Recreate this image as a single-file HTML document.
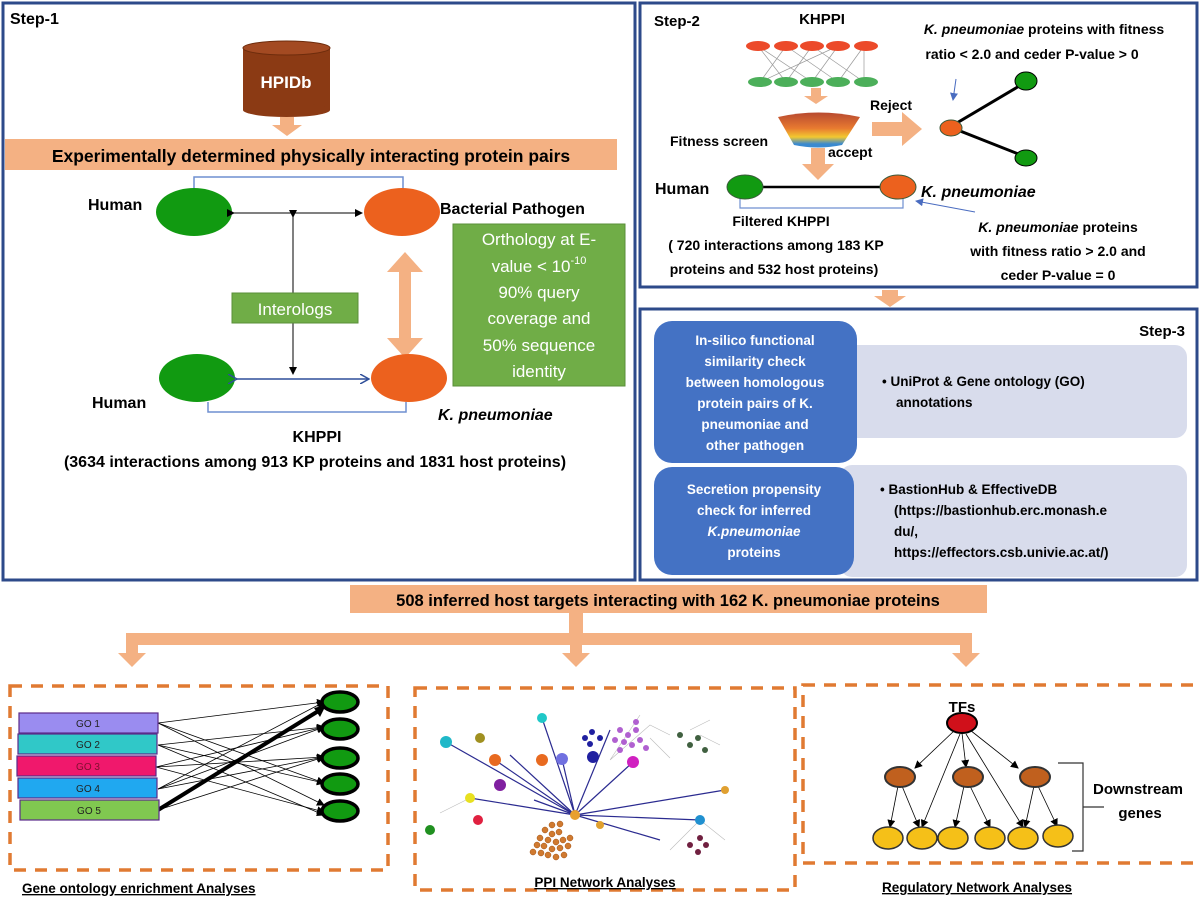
<!DOCTYPE html>
<html><head><meta charset="utf-8"><style>
html,body{margin:0;padding:0;background:#fff}
svg{display:block;font-family:"Liberation Sans",sans-serif}
.b{font-weight:bold}
</style></head><body>
<svg width="1200" height="902" viewBox="0 0 1200 902" xmlns="http://www.w3.org/2000/svg">
<defs>
<marker id="ak" markerWidth="8" markerHeight="8" refX="7" refY="4" orient="auto" markerUnits="userSpaceOnUse"><path d="M0,0 L8,4 L0,8 z" fill="#000"/></marker>
<marker id="ab" markerWidth="10" markerHeight="10" refX="9" refY="5" orient="auto" markerUnits="userSpaceOnUse"><path d="M0,0 L9,5 L0,10" fill="none" stroke="#2f4f9a" stroke-width="1.5"/></marker>
<marker id="abl" markerWidth="8" markerHeight="8" refX="7" refY="4" orient="auto" markerUnits="userSpaceOnUse"><path d="M0,0 L8,4 L0,8 z" fill="#4a6cc0"/></marker>
<linearGradient id="fun" x1="0" y1="0" x2="0" y2="1"><stop offset="0" stop-color="#b84a30"/><stop offset="0.45" stop-color="#e87a30"/><stop offset="0.7" stop-color="#f2c830"/><stop offset="0.9" stop-color="#3a8ad0"/></linearGradient>
</defs>

<rect x="3" y="3" width="632" height="577" fill="none" stroke="#2d4a8a" stroke-width="3"/>
<rect x="640" y="3" width="557" height="284" fill="none" stroke="#2d4a8a" stroke-width="3"/>
<rect x="640" y="309" width="557" height="271" fill="none" stroke="#2d4a8a" stroke-width="3"/>

<!-- Step 1 -->
<text x="10" y="24" class="b" font-size="16">Step-1</text>
<rect x="243" y="48" width="87" height="62" fill="#8b3a14"/>
<ellipse cx="286.5" cy="110" rx="43.5" ry="7" fill="#8b3a14"/>
<ellipse cx="286.5" cy="48" rx="43.5" ry="7" fill="#a34a22" stroke="#6e2c0c"/>
<text x="286" y="88" text-anchor="middle" fill="#fff" class="b" font-size="17">HPIDb</text>
<path d="M280,117 h14 v8 h8 l-15,11 l-15,-11 h8z" fill="#f4b183"/>
<rect x="5" y="139" width="612" height="31" fill="#f4b183"/>
<text x="311" y="162" text-anchor="middle" class="b" font-size="17.5">Experimentally determined physically interacting protein pairs</text>

<path d="M194,204 V177 H403 V204" fill="none" stroke="#6f8fd0" stroke-width="1.5"/>
<ellipse cx="194" cy="212" rx="38" ry="24" fill="#119a11"/>
<ellipse cx="402" cy="212" rx="38" ry="24" fill="#ec611e"/>
<line x1="234" y1="213" x2="362" y2="213" stroke="#000" marker-start="url(#ak)" marker-end="url(#ak)"/>
<text x="88" y="210" class="b" font-size="16">Human</text>
<text x="440" y="214" class="b" font-size="16">Bacterial Pathogen</text>
<line x1="293" y1="217" x2="293" y2="374" stroke="#000" marker-start="url(#ak)" marker-end="url(#ak)"/>
<rect x="232" y="293" width="126" height="30" fill="#70ad47" stroke="#5a8f3a"/>
<text x="295" y="315" text-anchor="middle" fill="#fff" font-size="17">Interologs</text>
<path d="M405,252 l-18,20 h12 v66 h-12 l18,20 l18,-20 h-12 v-66 h12z" fill="#f4b183"/>
<rect x="453" y="224" width="172" height="162" fill="#70ad47" stroke="#5a8f3a"/>
<g fill="#fff" font-size="17" text-anchor="middle">
<text x="539" y="245">Orthology at E-</text>
<text x="539" y="272">value &lt; 10<tspan font-size="11" dy="-8">-10</tspan></text>
<text x="539" y="298">90% query</text>
<text x="539" y="324">coverage and</text>
<text x="539" y="351">50% sequence</text>
<text x="539" y="377">identity</text>
</g>
<ellipse cx="197" cy="378" rx="38" ry="24" fill="#119a11"/>
<ellipse cx="409" cy="378" rx="38" ry="24" fill="#ec611e"/>
<line x1="237" y1="379" x2="369" y2="379" stroke="#2f4f9a" stroke-width="1.5" marker-start="url(#ab)" marker-end="url(#ab)"/>
<path d="M208,402 V412 H406 V402" fill="none" stroke="#6f8fd0" stroke-width="1.5"/>
<text x="92" y="408" class="b" font-size="16">Human</text>
<text x="438" y="420" class="b" font-size="16" font-style="italic">K. pneumoniae</text>
<text x="317" y="442" text-anchor="middle" class="b" font-size="16">KHPPI</text>
<text x="315" y="467" text-anchor="middle" class="b" font-size="16">(3634 interactions among 913 KP proteins and 1831 host proteins)</text>

<!-- Step 2 -->
<text x="654" y="26" class="b" font-size="15">Step-2</text>
<text x="822" y="24" text-anchor="middle" class="b" font-size="15">KHPPI</text>
<g stroke="#999" stroke-width="0.7">
<line x1="758" y1="46" x2="786" y2="82"/><line x1="758" y1="46" x2="812" y2="82"/><line x1="786" y1="46" x2="760" y2="82"/><line x1="786" y1="46" x2="838" y2="82"/><line x1="812" y1="46" x2="786" y2="82"/><line x1="812" y1="46" x2="864" y2="82"/><line x1="838" y1="46" x2="812" y2="82"/><line x1="838" y1="46" x2="760" y2="82"/><line x1="864" y1="46" x2="838" y2="82"/><line x1="864" y1="46" x2="864" y2="82"/>
</g>
<g fill="#ec4a2a"><ellipse cx="758" cy="46" rx="12" ry="5"/><ellipse cx="786" cy="46" rx="12" ry="5"/><ellipse cx="812" cy="46" rx="12" ry="5"/><ellipse cx="838" cy="46" rx="12" ry="5"/><ellipse cx="866" cy="46" rx="12" ry="5"/></g>
<g fill="#4caf5a"><ellipse cx="760" cy="82" rx="12" ry="5"/><ellipse cx="786" cy="82" rx="12" ry="5"/><ellipse cx="812" cy="82" rx="12" ry="5"/><ellipse cx="838" cy="82" rx="12" ry="5"/><ellipse cx="866" cy="82" rx="12" ry="5"/></g>
<path d="M811,88 h10 v8 h7 l-12,8 l-12,-8 h7z" fill="#f4b183"/>
<path d="M778,117 Q818,108 860,117 L842,145 Q818,150 794,145 Z" fill="url(#fun)"/>
<text x="670" y="146" class="b" font-size="14">Fitness screen</text>
<text x="870" y="110" class="b" font-size="14">Reject</text>
<path d="M872,122 h30 v-10 l20,17 l-20,17 v-10 h-30z" fill="#f4b183"/>
<path d="M811,148 h14 v16 h9 l-16,16 l-16,-16 h9z" fill="#f4b183"/>
<text x="828" y="157" class="b" font-size="14">accept</text>
<line x1="950" y1="127" x2="1026" y2="82" stroke="#000" stroke-width="3"/>
<line x1="950" y1="127" x2="1026" y2="157" stroke="#000" stroke-width="3"/>
<ellipse cx="951" cy="128" rx="11" ry="8" fill="#ec611e" stroke="#3a5a3a"/>
<ellipse cx="1026" cy="81" rx="11" ry="9" fill="#119a11" stroke="#000"/>
<ellipse cx="1026" cy="158" rx="11" ry="8" fill="#119a11" stroke="#000"/>
<line x1="956" y1="79" x2="953" y2="100" stroke="#4a6cc0" marker-end="url(#abl)"/>
<g class="b" font-size="14" text-anchor="middle">
<text x="1044" y="34"><tspan font-style="italic">K. pneumoniae</tspan> proteins with fitness</text>
<text x="1032" y="59">ratio &lt; 2.0 and ceder P-value &gt; 0</text>
</g>
<path d="M740,196 V208 H903 V196" fill="none" stroke="#6f8fd0" stroke-width="1.2"/>
<line x1="745" y1="187" x2="900" y2="187" stroke="#000" stroke-width="2.5"/>
<ellipse cx="745" cy="187" rx="18" ry="12" fill="#119a11" stroke="#3a5a3a"/>
<ellipse cx="898" cy="187" rx="18" ry="12" fill="#ec611e" stroke="#3a5a3a"/>
<text x="655" y="194" class="b" font-size="16">Human</text>
<text x="921" y="197" class="b" font-size="16" font-style="italic">K. pneumoniae</text>
<line x1="975" y1="212" x2="916" y2="201" stroke="#4a6cc0" marker-end="url(#abl)"/>
<g class="b" font-size="14" text-anchor="middle">
<text x="781" y="226">Filtered KHPPI</text>
<text x="776" y="250">( 720 interactions among 183 KP</text>
<text x="774" y="274">proteins and 532 host proteins)</text>
<text x="1058" y="232"><tspan font-style="italic">K. pneumoniae</tspan> proteins</text>
<text x="1058" y="256">with fitness ratio &gt; 2.0 and</text>
<text x="1058" y="280">ceder P-value = 0</text>
</g>
<path d="M882,290 h16 v6 h8 l-16,11 l-16,-11 h8z" fill="#f4b183"/>

<!-- Step 3 -->
<text x="1185" y="336" text-anchor="end" class="b" font-size="15">Step-3</text>
<rect x="840" y="345" width="347" height="93" rx="12" fill="#d8dcec"/>
<rect x="654" y="321" width="203" height="142" rx="18" fill="#4472c4"/>
<g fill="#fff" class="b" font-size="13.5" text-anchor="middle">
<text x="755" y="345">In-silico functional</text>
<text x="755" y="366">similarity check</text>
<text x="755" y="387">between homologous</text>
<text x="755" y="408">protein pairs of K.</text>
<text x="755" y="429">pneumoniae and</text>
<text x="755" y="450">other pathogen</text>
</g>
<text x="882" y="386" class="b" font-size="13.5">• UniProt &amp; Gene ontology (GO)</text>
<text x="896" y="407" class="b" font-size="13.5">annotations</text>
<rect x="840" y="465" width="347" height="112" rx="12" fill="#d8dcec"/>
<rect x="654" y="467" width="200" height="108" rx="18" fill="#4472c4"/>
<g fill="#fff" class="b" font-size="13.5" text-anchor="middle">
<text x="754" y="494">Secretion propensity</text>
<text x="754" y="515">check for inferred</text>
<text x="754" y="536" font-style="italic">K.pneumoniae</text>
<text x="754" y="557">proteins</text>
</g>
<g class="b" font-size="13.5">
<text x="880" y="494">• BastionHub &amp; EffectiveDB</text>
<text x="894" y="515">(https://bastionhub.erc.monash.e</text>
<text x="894" y="536">du/,</text>
<text x="894" y="557">https://effectors.csb.univie.ac.at/)</text>
</g>

<rect x="350" y="585" width="637" height="28" fill="#f4b183"/>
<text x="668" y="606" text-anchor="middle" class="b" font-size="16.5">508 inferred host targets interacting with 162 K. pneumoniae proteins</text>
<rect x="569" y="613" width="14" height="20" fill="#f4b183"/>
<rect x="126" y="633" width="846" height="12" fill="#f4b183"/>
<path d="M126,645 h12 v8 h8 l-14,14 l-14,-14 h8z" fill="#f4b183"/>
<path d="M570,645 h12 v8 h8 l-14,14 l-14,-14 h8z" fill="#f4b183"/>
<path d="M960,645 h12 v8 h8 l-14,14 l-14,-14 h8z" fill="#f4b183"/>

<g fill="none" stroke="#e07a32" stroke-width="3.5" stroke-dasharray="12,9">
<rect x="10" y="686" width="378" height="184"/>
<rect x="415" y="688" width="380" height="202"/>
<rect x="803" y="685" width="400" height="178"/>
</g>

<!-- GO -->
<g stroke="#000" stroke-width="0.8">
<line x1="158" y1="723" x2="324" y2="702" marker-end="url(#ak)"/>
<line x1="158" y1="723" x2="324" y2="805" marker-end="url(#ak)"/>
<line x1="158" y1="723" x2="324" y2="783" marker-end="url(#ak)"/>
<line x1="158" y1="745" x2="324" y2="727" marker-end="url(#ak)"/>
<line x1="158" y1="745" x2="324" y2="783" marker-end="url(#ak)"/>
<line x1="158" y1="745" x2="324" y2="815" marker-end="url(#ak)"/>
<line x1="156" y1="767" x2="324" y2="727" marker-end="url(#ak)"/>
<line x1="156" y1="767" x2="324" y2="757" marker-end="url(#ak)"/>
<line x1="156" y1="767" x2="324" y2="812" marker-end="url(#ak)"/>
<line x1="158" y1="789" x2="324" y2="702" marker-end="url(#ak)"/>
<line x1="158" y1="789" x2="324" y2="757" marker-end="url(#ak)"/>
<line x1="158" y1="789" x2="324" y2="727" marker-end="url(#ak)"/>
<line x1="158" y1="810" x2="324" y2="757" marker-end="url(#ak)"/>
</g>
<line x1="158" y1="810" x2="320" y2="710" stroke="#000" stroke-width="4"/>
<path d="M326,705 l-12,3 l6,9z" fill="#000"/>
<g fill="#119a11" stroke="#000" stroke-width="3.5">
<ellipse cx="340" cy="702" rx="18" ry="10"/><ellipse cx="340" cy="729" rx="18" ry="10"/><ellipse cx="340" cy="758" rx="18" ry="10"/><ellipse cx="340" cy="784" rx="18" ry="10"/><ellipse cx="340" cy="811" rx="18" ry="10"/>
</g>
<g stroke="#5a2a8a" stroke-width="1.2">
<rect x="19" y="713" width="139" height="20" fill="#9a8cf0"/>
<rect x="18" y="734" width="139" height="20" fill="#30c8c8"/>
<rect x="17" y="756" width="139" height="20" fill="#f0186c"/>
<rect x="18" y="778" width="139" height="20" fill="#20a8f0"/>
<rect x="20" y="800" width="139" height="20" fill="#80c850"/>
</g>
<g font-size="10" text-anchor="middle" fill="#222">
<text x="88" y="727">GO 1</text><text x="88" y="748">GO 2</text><text x="88" y="770" fill="#801030">GO 3</text><text x="88" y="792">GO 4</text><text x="89" y="814">GO 5</text>
</g>
<text x="22" y="893" class="b" font-size="13.5" text-decoration="underline">Gene ontology enrichment Analyses</text>

<!-- PPI network -->
<g stroke="#2b2b90" stroke-width="1.2">
<line x1="575" y1="815" x2="446" y2="742"/><line x1="575" y1="815" x2="495" y2="760"/><line x1="575" y1="815" x2="542" y2="718"/><line x1="575" y1="815" x2="562" y2="759"/><line x1="575" y1="815" x2="633" y2="762"/><line x1="575" y1="815" x2="534" y2="800"/><line x1="575" y1="815" x2="470" y2="798"/><line x1="575" y1="815" x2="700" y2="820"/><line x1="575" y1="815" x2="660" y2="840"/><line x1="575" y1="815" x2="610" y2="730"/><line x1="575" y1="815" x2="510" y2="755"/><line x1="575" y1="815" x2="725" y2="790"/>
</g>
<g stroke="#bbb" stroke-width="0.6" fill="none">
<path d="M610,760 l40,-35 l20,10 M610,760 l30,-45 M650,738 l20,20 M700,820 l-30,30 M700,820 l25,20 M470,798 l-30,15 M690,730 l20,-10 M700,735 l20,10"/>
</g>
<g>
<circle cx="575" cy="815" r="5" fill="#e8a030"/>
<circle cx="446" cy="742" r="6" fill="#20b8c8"/><circle cx="495" cy="760" r="6" fill="#e86a20"/><circle cx="542" cy="718" r="5" fill="#20c8c8"/><circle cx="542" cy="760" r="6" fill="#e86a20"/>
<circle cx="562" cy="759" r="6" fill="#7070e0"/><circle cx="593" cy="757" r="6" fill="#2020a0"/><circle cx="633" cy="762" r="6" fill="#d020c0"/><circle cx="500" cy="785" r="6" fill="#8020a0"/>
<circle cx="470" cy="798" r="5" fill="#e8e020"/><circle cx="478" cy="820" r="5" fill="#e02040"/><circle cx="700" cy="820" r="5" fill="#2090d0"/><circle cx="725" cy="790" r="4" fill="#e0a030"/><circle cx="480" cy="738" r="5" fill="#a09020"/>
<circle cx="600" cy="825" r="4" fill="#e0a030"/><circle cx="430" cy="830" r="5" fill="#209020"/>
</g>
<g fill="#d07a30" stroke="#a05010" stroke-width="0.5">
<circle cx="545" cy="830" r="3"/><circle cx="552" cy="834" r="3"/><circle cx="559" cy="832" r="3"/><circle cx="548" cy="840" r="3"/><circle cx="556" cy="842" r="3"/><circle cx="563" cy="840" r="3"/><circle cx="540" cy="838" r="3"/><circle cx="544" cy="846" r="3"/><circle cx="552" cy="849" r="3"/><circle cx="560" cy="848" r="3"/><circle cx="568" cy="846" r="3"/><circle cx="537" cy="845" r="3"/><circle cx="548" cy="855" r="3"/><circle cx="556" cy="857" r="3"/><circle cx="564" cy="855" r="3"/><circle cx="541" cy="853" r="3"/><circle cx="570" cy="838" r="3"/><circle cx="552" cy="825" r="3"/><circle cx="560" cy="824" r="3"/><circle cx="533" cy="852" r="3"/>
</g>
<g fill="#b060d0">
<circle cx="620" cy="730" r="3"/><circle cx="628" cy="735" r="3"/><circle cx="636" cy="730" r="3"/><circle cx="624" cy="742" r="3"/><circle cx="632" cy="745" r="3"/><circle cx="640" cy="740" r="3"/><circle cx="615" cy="740" r="3"/><circle cx="646" cy="748" r="3"/><circle cx="620" cy="750" r="3"/><circle cx="636" cy="722" r="3"/>
</g>
<g fill="#2020a0"><circle cx="585" cy="738" r="3"/><circle cx="592" cy="732" r="3"/><circle cx="600" cy="738" r="3"/><circle cx="590" cy="744" r="3"/></g>
<g fill="#406040"><circle cx="680" cy="735" r="3"/><circle cx="690" cy="745" r="3"/><circle cx="698" cy="738" r="3"/><circle cx="705" cy="750" r="3"/></g>
<g fill="#702040"><circle cx="690" cy="845" r="3"/><circle cx="698" cy="852" r="3"/><circle cx="706" cy="845" r="3"/><circle cx="700" cy="838" r="3"/></g>
<text x="605" y="887" text-anchor="middle" class="b" font-size="13.5" text-decoration="underline">PPI Network Analyses</text>

<!-- Regulatory -->
<g stroke="#000" stroke-width="0.8">
<line x1="955" y1="730" x2="915" y2="768" marker-end="url(#ak)"/>
<line x1="962" y1="733" x2="966" y2="767" marker-end="url(#ak)"/>
<line x1="970" y1="730" x2="1018" y2="768" marker-end="url(#ak)"/>
<line x1="960" y1="734" x2="922" y2="827" marker-end="url(#ak)"/>
<line x1="966" y1="734" x2="1023" y2="827" marker-end="url(#ak)"/>
<line x1="898" y1="786" x2="890" y2="827" marker-end="url(#ak)"/>
<line x1="902" y1="786" x2="919" y2="827" marker-end="url(#ak)"/>
<line x1="964" y1="786" x2="955" y2="827" marker-end="url(#ak)"/>
<line x1="970" y1="786" x2="990" y2="827" marker-end="url(#ak)"/>
<line x1="1034" y1="786" x2="1025" y2="827" marker-end="url(#ak)"/>
<line x1="1038" y1="786" x2="1057" y2="826" marker-end="url(#ak)"/>
</g>
<ellipse cx="962" cy="723" rx="15" ry="10" fill="#d0101a" stroke="#000" stroke-width="2"/>
<g fill="#c0601e" stroke="#333" stroke-width="2"><ellipse cx="900" cy="777" rx="15" ry="10"/><ellipse cx="968" cy="777" rx="15" ry="10"/><ellipse cx="1035" cy="777" rx="15" ry="10"/></g>
<g fill="#f5c018" stroke="#333" stroke-width="1.5"><ellipse cx="888" cy="838" rx="15" ry="11"/><ellipse cx="922" cy="838" rx="15" ry="11"/><ellipse cx="953" cy="838" rx="15" ry="11"/><ellipse cx="990" cy="838" rx="15" ry="11"/><ellipse cx="1023" cy="838" rx="15" ry="11"/><ellipse cx="1058" cy="836" rx="15" ry="11"/></g>
<text x="962" y="712" text-anchor="middle" class="b" font-size="15">TFs</text>
<path d="M1058,763 H1083 V851 H1072 M1083,807 H1104" fill="none" stroke="#333" stroke-width="1.2"/>
<text x="1093" y="794" class="b" font-size="15">Downstream</text>
<text x="1140" y="818" text-anchor="middle" class="b" font-size="15">genes</text>
<text x="977" y="892" text-anchor="middle" class="b" font-size="13.5" text-decoration="underline">Regulatory Network Analyses</text>
</svg>
</body></html>
